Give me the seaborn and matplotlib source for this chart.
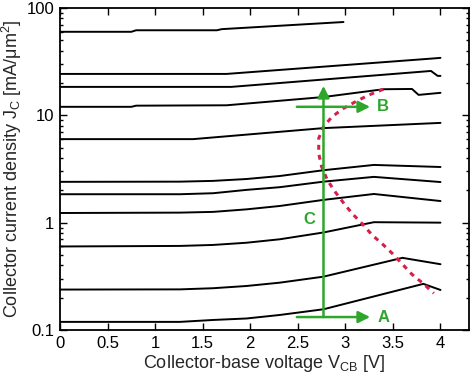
"""
plot.py
- Collector current density vs collector-base voltage, log scale, with A/B/C annotations.
"""
import numpy as np
import pandas as pd
import seaborn as sns
import matplotlib
matplotlib.use("Agg")
import matplotlib.pyplot as plt
from matplotlib.ticker import FixedLocator, FixedFormatter, LogLocator, NullFormatter

v1 = [0, 0.75, 0.8, 1.65, 1.7, 2.98]
j1 = [60, 60, 62, 62, 63.5, 74]
v2 = [0, 1.75, 3.95, 4.0]
j2 = [24.3, 24.3, 34.0, 34.3]
v3 = [0, 1.8, 3.9, 3.97, 4.0]
j3 = [18.4, 18.4, 25.9, 23.3, 23.3]
v4 = [0, 0.75, 0.8, 1.75, 2.77, 3.4, 3.7, 3.77, 4.0]
j4 = [12.0, 12.0, 12.3, 12.4, 14.8, 17.5, 17.6, 15.5, 16.2]
v5 = [0, 1.4, 2.77, 4.0]
j5 = [6.0, 6.0, 7.6, 8.5]
v6 = [0, 1.26, 1.61, 1.96, 2.31, 2.77, 3.3, 4.0]
j6 = [2.4, 2.41, 2.45, 2.55, 2.72, 3.08, 3.45, 3.3]
v7 = [0, 1.26, 1.61, 1.96, 2.31, 2.77, 3.3, 4.0]
j7 = [1.84, 1.84, 1.88, 2.02, 2.14, 2.41, 2.67, 2.39]
v8 = [0, 1.26, 1.61, 1.96, 2.31, 2.77, 3.3, 4.0]
j8 = [1.23, 1.24, 1.26, 1.33, 1.43, 1.63, 1.85, 1.59]
v9 = [0, 1.26, 1.61, 1.96, 2.31, 2.77, 3.3, 4.0]
j9 = [0.6, 0.607, 0.62, 0.65, 0.70, 0.81, 1.01, 1.0]
v10 = [0, 1.26, 1.61, 1.96, 2.31, 2.77, 3.6, 4.0]
j10 = [0.238, 0.239, 0.245, 0.257, 0.276, 0.314, 0.47, 0.41]
v11 = [0, 1.26, 1.61, 1.96, 2.31, 2.77, 3.82, 4.0]
j11 = [0.119, 0.119, 0.124, 0.128, 0.138, 0.156, 0.269, 0.236]

curves_v = [v1, v2, v3, v4, v5, v6, v7, v8, v9, v10, v11]
curves_j = [j1, j2, j3, j4, j5, j6, j7, j8, j9, j10, j11]

# red dotted trace of the peak / onset
red_v = [3.40, 3.25, 3.12, 2.98, 2.86, 2.77, 2.72, 2.72, 2.75, 2.81, 2.89,
         2.98, 3.07, 3.18, 3.28, 3.40, 3.50, 3.60, 3.70, 3.82, 3.93]
red_j = [17.5, 15.5, 13.6, 11.6, 9.7, 7.85, 6.1, 4.4, 3.33, 2.5, 1.95,
         1.53, 1.22, 0.97, 0.77, 0.62, 0.51, 0.41, 0.33, 0.27, 0.22]

# green annotation arrows
c_v = 2.77
c_j = [0.132, 18.8]
a_v = [2.49, 3.26]
a_j = 0.132
b_v = [2.49, 3.26]
b_j = 12.0
labels = ["A", "B", "C"]
label_v = [3.40, 3.39, 2.62]
label_j = [0.132, 12.0, 1.08]

xticks = [0, 0.5, 1, 1.5, 2, 2.5, 3, 3.5, 4]
xticklabels = ["0", "0.5", "1", "1.5", "2", "2.5", "3", "3.5", "4"]
yticks = [0.1, 1, 10, 100]
yticklabels = ["0.1", "1", "10", "100"]

rows = []
for i, (vs, js) in enumerate(zip(curves_v, curves_j)):
    for v, j in zip(vs, js):
        rows.append({"curve": i, "V": v, "J": j})
df = pd.DataFrame(rows)

sns.set_style("ticks")
plt.rcParams["font.family"] = ["Liberation Sans", "DejaVu Sans"]
plt.rcParams["mathtext.default"] = "regular"

fig = plt.figure(figsize=(4.74, 3.8), dpi=100)
ax = fig.add_axes([0.1266, 0.1316, 0.8629, 0.8474])

sns.lineplot(data=df, x="V", y="J", units="curve", estimator=None,
             color="black", linewidth=1.4, ax=ax, sort=False)

green = "#2ea62c"
red = "#d4204a"
ax.plot(red_v, red_j, color=red, linewidth=2.2, linestyle=(0, (1.6, 1.7)),
        zorder=3)

arrow = dict(arrowstyle="-|>,head_length=0.7,head_width=0.35", color=green,
             lw=1.8, shrinkA=0, shrinkB=0)
ax.annotate("", xy=(c_v, c_j[1]), xytext=(c_v, c_j[0]), arrowprops=arrow, zorder=4)
ax.annotate("", xy=(a_v[1], a_j), xytext=(a_v[0], a_j), arrowprops=arrow, zorder=4)
ax.annotate("", xy=(b_v[1], b_j), xytext=(b_v[0], b_j), arrowprops=arrow, zorder=4)
for lab, lv, lj in zip(labels, label_v, label_j):
    ax.text(lv, lj, lab, color=green, fontsize=12, fontweight="bold",
            ha="center", va="center", zorder=5)

ax.set_yscale("log")
ax.set_xlim(0, 4.3)
ax.set_ylim(0.1, 100)
ax.xaxis.set_major_locator(FixedLocator(xticks))
ax.xaxis.set_major_formatter(FixedFormatter(xticklabels))
ax.yaxis.set_major_locator(FixedLocator(yticks))
ax.yaxis.set_major_formatter(FixedFormatter(yticklabels))
ax.yaxis.set_minor_locator(LogLocator(base=10, subs=np.arange(2, 10)))
ax.yaxis.set_minor_formatter(NullFormatter())

ax.tick_params(which="both", direction="in", top=True, right=True,
               labelsize=12, width=1.0, colors="black")
ax.tick_params(which="major", length=5, pad=4)
ax.tick_params(which="minor", length=2.5)
for s in ax.spines.values():
    s.set_linewidth(1.3)
    s.set_color("black")

ax.set_xlabel("Collector-base voltage V$_{CB}$ [V]", fontsize=13, labelpad=2)
ax.set_ylabel("Collector current density J$_C$ [mA/\u03bcm$^2$]", fontsize=13, labelpad=2)

fig.savefig("out.png", dpi=100)
